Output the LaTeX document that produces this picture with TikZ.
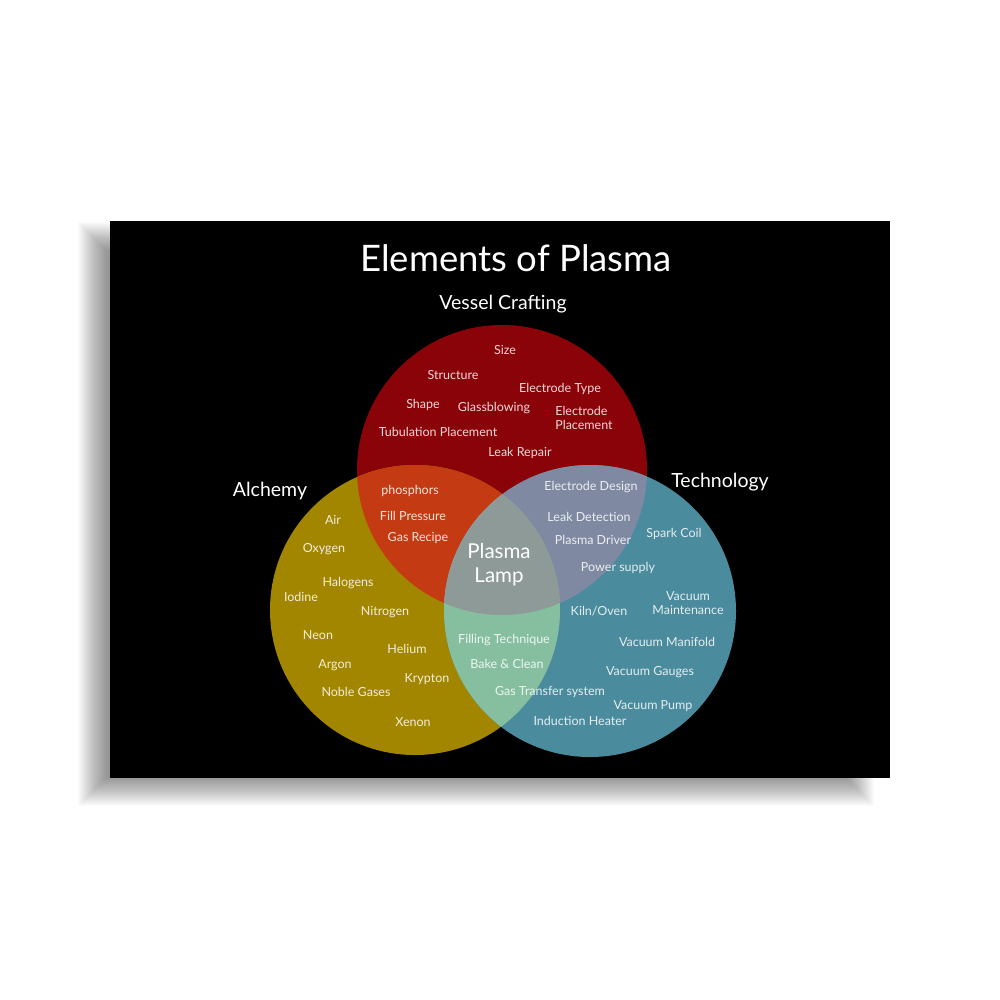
\documentclass[tikz,border=0pt]{standalone}
\usepackage{fontspec}
\setmainfont{Lato}
\usetikzlibrary{positioning}
\definecolor{vesselred}{HTML}{8A0308}
\definecolor{alchemyyellow}{HTML}{A38600}
\definecolor{techblue}{HTML}{4A8B9D}
\definecolor{redyellow}{HTML}{C43A12}
\definecolor{redblue}{HTML}{7F8AA2}
\definecolor{yellowblue}{HTML}{86BFA0}
\definecolor{lampgrey}{HTML}{8E9A98}
\tikzset{
  item/.style={text=white,text opacity=.85,inner sep=0pt,font=\fontsize{12.5}{15}\selectfont},
  head/.style={text=white,inner sep=0pt,font=\fontsize{19.5}{22}\selectfont}
}
\def\vesselc{(502,470) circle (145)}
\def\alchemyc{(415,610) circle (145)}
\def\techc{(590,611) circle (146)}

\begin{document}
\begin{tikzpicture}[x=1pt,y=-1pt]
\useasboundingbox (0,0) rectangle (1000,1000);
\fill[white] (0,0) rectangle (1000,1000);
% shadow
\foreach \i in {0,...,28} \fill[black,opacity=.016] (106-\i,250-\i) rectangle (846+\i,778+\i);
\fill[black] (110,221) rectangle (890,778);
% circles and overlaps
\fill[vesselred] \vesselc;\fill[alchemyyellow] \alchemyc;\fill[techblue] \techc;
\begin{scope}\clip \vesselc;\fill[redyellow] \alchemyc;\fill[redblue] \techc;\end{scope}
\begin{scope}\clip \alchemyc;\fill[yellowblue] \techc;\end{scope}
\begin{scope}\clip \vesselc;\clip \alchemyc;\fill[lampgrey] \techc;\end{scope}
% titles
\node[text=white,font=\fontsize{36.5}{40}\selectfont] (title) at (516,258) {Elements of Plasma};
\node[head] (vessel) at (503,304) {Vessel Crafting};
\node[head] (alchemy) at (270,491) {Alchemy};
\node[head] (tech) at (720,482) {Technology};
\node[head,align=center,font=\fontsize{20.5}{24}\selectfont] (lamp) at (499,565) {Plasma\\Lamp};
% vessel crafting
\foreach \name/\x/\y/\txt in {size/505/350/Size,structure/453/375/Structure,eltype/560/389/Electrode Type,
  shape/423/405/Shape,glass/494/408/Glassblowing,tubulation/438/432/Tubulation Placement,leakrep/520/453/Leak Repair}
  \node[item] (\name) at (\x,\y) {\txt};
\node[item,align=left,font=\fontsize{12.5}{14}\selectfont] (elplace) at (584,418) {Electrode\\Placement};
% alchemy
\foreach \name/\x/\y/\txt in {air/333/520/Air,oxygen/324/549/Oxygen,halogens/348/583/Halogens,iodine/301/597/Iodine,
  nitrogen/385/612/Nitrogen,neon/318/635/Neon,helium/407/649/Helium,argon/335/665/Argon,krypton/427/679/Krypton,
  noble/356/692/Noble Gases,xenon/413/722/Xenon}
  \node[item] (\name) at (\x,\y) {\txt};
% technology
\foreach \name/\x/\y/\txt in {spark/674/534/Spark Coil,power/618/568/Power supply,
  manifold/667/642/Vacuum Manifold,gauges/650/672/Vacuum Gauges,pump/653/706/Vacuum Pump,induction/580/721/Induction Heater}
  \node[item] (\name) at (\x,\y) {\txt};
\node[item] (kiln) at (599,611) {Kiln/Oven};
\node[item,align=center,font=\fontsize{12.5}{14}\selectfont] (vacmaint) at (688,603) {Vacuum\\Maintenance};
% overlaps
\foreach \name/\x/\y/\txt in {phosphors/410/491/phosphors,fillpress/413/516/Fill Pressure,gasrecipe/418/538/Gas Recipe,
  eldesign/591/487/Electrode Design,leakdet/589/517/Leak Detection,driver/593/540/Plasma Driver,
  filling/504/640/Filling Technique,bake/507/664/Bake \& Clean,gastransfer/550/692/Gas Transfer system}
  \node[item] (\name) at (\x,\y) {\txt};
\end{tikzpicture}
\end{document}
